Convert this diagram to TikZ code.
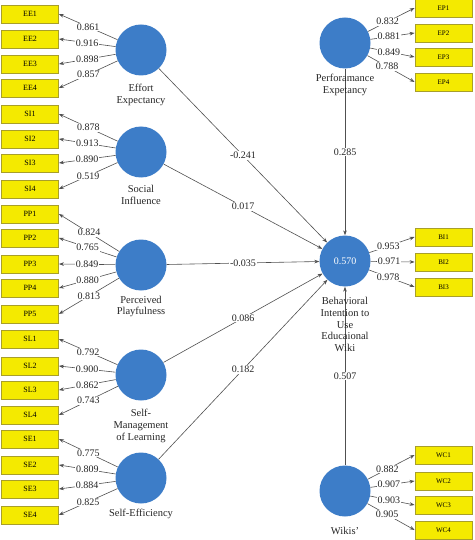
\documentclass[tikz,border=0pt]{standalone}
\usepackage{fontspec}
\setmainfont{Liberation Serif}
\usetikzlibrary{arrows.meta}
\definecolor{cblue}{HTML}{3D7DC8}
\definecolor{yfill}{HTML}{F4EA00}
\definecolor{ydraw}{HTML}{A89F2A}
\definecolor{lgray}{HTML}{505050}
\tikzset{
  lv/.style={circle, fill=cblue, minimum size=51pt, inner sep=0pt},
  indl/.style={rectangle, fill=yfill, draw=ydraw, line width=0.8pt, minimum width=57pt, minimum height=18pt, inner sep=0pt, font=\fontsize{8}{9}\selectfont},
  indr/.style={indl, font=\fontsize{7}{8}\selectfont},
  lbl/.style={font=\fontsize{10.5}{11.8}\selectfont, align=center, text=black!85, inner sep=0pt},
  conn/.style={draw=lgray, line width=0.6pt, -{Stealth[length=5pt,width=3.6pt]}},
  num/.style={fill=white, inner sep=0.8pt, font=\fontsize{10}{10}\selectfont, text=black!85}
}
\begin{document}
\begin{tikzpicture}[x=1pt,y=-1pt]
\path[use as bounding box] (0,0) rectangle (474,540);
% latent variables
\node[lv] (EE) at (141,50) {};
\node[lv] (SI) at (141,152) {};
\node[lv] (PP) at (141,265) {};
\node[lv] (SL) at (141,375) {};
\node[lv] (SE) at (141,478) {};
\node[lv] (EP) at (345,43) {};
\node[lv, text=white, font=\fontsize{10}{10}\selectfont] (BI) at (345,261) {0.570};
\node[lv] (WC) at (345,491) {};
% indicators left
\foreach \n/\y in {EE1/14,EE2/39,EE3/64,EE4/88,SI1/114,SI2/139,SI3/163,SI4/189,PP1/214,PP2/238,PP3/264,PP4/288,PP5/314,SL1/339,SL2/366,SL3/390,SL4/415,SE1/439,SE2/465,SE3/489,SE4/515}
  \node[indl] (\n) at (30,\y) {\n};
% indicators right
\foreach \n/\y in {EP1/8,EP2/33,EP3/57,EP4/82,BI1/237,BI2/262,BI3/287,WC1/455,WC2/481,WC3/505,WC4/530}
  \node[indr] (\n) at (443.5,\y) {\n};
% loadings
\foreach \n/\v in {EE1/0.861,EE2/0.916,EE3/0.898,EE4/0.857}
  \draw[conn] (EE) -- node[num]{\v} (\n.east);
\foreach \n/\v in {SI1/0.878,SI2/0.913,SI3/0.890,SI4/0.519}
  \draw[conn] (SI) -- node[num]{\v} (\n.east);
\foreach \n/\v in {PP1/0.824,PP2/0.765,PP3/0.849,PP4/0.880,PP5/0.813}
  \draw[conn] (PP) -- node[num]{\v} (\n.east);
\foreach \n/\v in {SL1/0.792,SL2/0.900,SL3/0.862,SL4/0.743}
  \draw[conn] (SL) -- node[num]{\v} (\n.east);
\foreach \n/\v in {SE1/0.775,SE2/0.809,SE3/0.884,SE4/0.825}
  \draw[conn] (SE) -- node[num]{\v} (\n.east);
\foreach \n/\v in {EP1/0.832,EP2/0.881,EP3/0.849,EP4/0.788}
  \draw[conn] (EP) -- node[num, pos=0.42]{\v} (\n.west);
\foreach \n/\v in {BI1/0.953,BI2/0.971,BI3/0.978}
  \draw[conn] (BI) -- node[num, pos=0.42]{\v} (\n.west);
\foreach \n/\v in {WC1/0.882,WC2/0.907,WC3/0.903,WC4/0.905}
  \draw[conn] (WC) -- node[num, pos=0.42]{\v} (\n.west);
% structural paths
\draw[conn] (EE) -- node[num]{-0.241} (BI);
\draw[conn] (SI) -- node[num]{0.017} (BI);
\draw[conn] (PP) -- node[num]{-0.035} (BI);
\draw[conn] (SL) -- node[num]{0.086} (BI);
\draw[conn] (SE) -- node[num]{0.182} (BI);
\draw[conn] (EP) -- node[num]{0.285} (BI);
\draw[conn] (WC) -- node[num]{0.507} (BI);
% construct labels
\node[lbl] (lEE) at (141,95) {Effort\\Expectancy};
\node[lbl] (lSI) at (141,195) {Social\\Influence};
\node[lbl] (lPP) at (141,306.5) {Perceived\\Playfulness};
\node[lbl] (lSL) at (141,426) {Self-\\Management\\of Learning};
\node[lbl] (lSE) at (141,514) {Self-Efficiency};
\node[lbl] (lEP) at (345,85) {Perforamance\\Expetancy};
\node[lbl] (lBI) at (345,324.5) {Behavioral\\Intention to\\Use\\Educaional\\Wiki};
\node[lbl] (lWC) at (345,531) {Wikis'};
\end{tikzpicture}
\end{document}
